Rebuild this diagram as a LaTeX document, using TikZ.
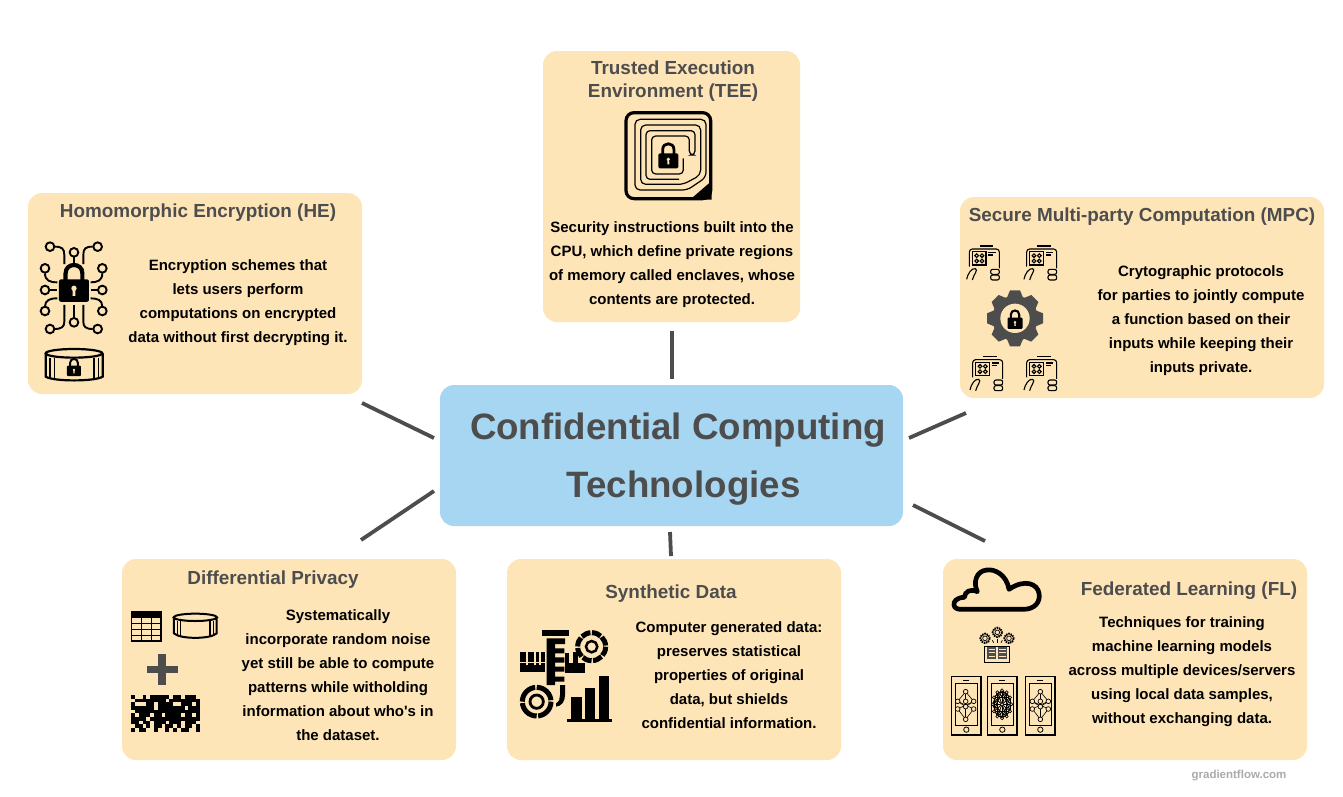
\documentclass[tikz,border=0pt]{standalone}
\usepackage{fontspec}
\defaultfontfeatures[\rmfamily]{}
\setmainfont{Liberation Sans}
\usepackage{tikz}
\usetikzlibrary{arrows.meta,positioning,calc}

\definecolor{panelfill}{HTML}{FEE5B7}
\definecolor{corefill}{HTML}{A6D6F1}
\definecolor{inkgray}{HTML}{4D4D4D}
\definecolor{creditgray}{HTML}{ABABAB}

\tikzset{
  panel/.style={fill=panelfill,rounded corners=14pt,inner sep=0pt,minimum width=#1},
  corebox/.style={fill=corefill,rounded corners=14pt,inner sep=0pt},
  title/.style={font=\bfseries\fontsize{18.9}{23}\selectfont,text=inkgray,align=center,inner sep=0pt},
  body/.style={font=\bfseries\fontsize{15}{24}\selectfont,text=black,align=center,inner sep=0pt},
  spoke/.style={draw=inkgray,line width=3.8pt},
  zoomed/.style 2 args={shift={(#1,#2)},x=0.3333pt,y=-0.3333pt}
}

% padlock: centre of body top, size in picture units
\newcommand{\padlock}[3]{%
  \begin{scope}[shift={(#1,#2)},x=#3pt,y=-#3pt]
    \draw[line width=0.14*#3 pt] (-.28,.1) -- (-.28,-.2)
      .. controls (-.28,-.57) and (.28,-.57) .. (.28,-.2) -- (.28,.1);
    \fill[rounded corners=0.07*#3 pt] (-.5,0) rectangle (.5,.75);
    \fill[panelfill] (0,.3) circle (.09);
    \fill[panelfill] (-.04,.3) -- (.04,.3) -- (.05,.55) -- (-.05,.55) -- cycle;
  \end{scope}}

% small tablet with hand and stack
\newcommand{\tablet}[2]{%
  \begin{scope}[shift={(#1,#2)},line width=1.1pt]
    \draw (60,33) -- (100,33);
    \draw[rounded corners=3pt] (28,95) -- (28,42) -- (118,42) -- (118,100);
    \draw[line width=1.2pt] (37,50) rectangle (78,90);
    \foreach \cx in {50,66} \foreach \cy in {62,78}
      \draw (\cx,\cy) circle (5.5);
    \draw (85,52) -- (108,52);
    \draw (85,60) -- (100,60);
    \draw (20,133) .. controls (22,118) and (35,98) .. (46,101)
      .. controls (56,104) and (40,120) .. (37,135);
    \draw[rounded corners=2pt] (92,103) rectangle (118,118);
    \draw[rounded corners=2pt] (92,120) rectangle (118,135);
  \end{scope}}

% phone with a small network
\newcommand{\phone}[1]{%
  \begin{scope}[shift={(#1,0)}]
    \draw[line width=1.5pt] (20,350) rectangle (108,525);
    \draw[line width=0.9pt] (31,370) rectangle (97,495);
    \draw[line width=0.8pt] (55,360) -- (73,360);
    \draw[line width=0.8pt] (64,509) circle (8);
  \end{scope}}

% one row of the noise block
\newcommand{\noiserow}[2]{%
  \foreach \cx in {#2}
    \fill (\cx*11.5,#1*11) rectangle ++(11.7,11.2);}

\begin{document}
\begin{tikzpicture}[x=1pt,y=-1pt]
  \useasboundingbox (0,0) rectangle (1343,796);
  \fill[white] (0,0) rectangle (1343,796);

  % boxes
  \node[corebox,minimum width=463,minimum height=141] (core) at (671.5,455.5) {};
  \node[panel=257,minimum height=271] (tee) at (671.5,186.5) {};
  \node[panel=334,minimum height=201] (he) at (195,293.5) {};
  \node[panel=364,minimum height=201] (mpc) at (1142,297.5) {};
  \node[panel=334,minimum height=201] (dp) at (289,659.5) {};
  \node[panel=334,minimum height=201] (sd) at (674,659.5) {};
  \node[panel=364,minimum height=201] (fl) at (1125,659.5) {};

  % spokes
  \coordinate (core-n) at (672,379);
  \coordinate (tee-s) at (672,331);
  \coordinate (core-nw) at (434,438);
  \coordinate (he-s) at (362,403);
  \coordinate (core-ne) at (909,438);
  \coordinate (mpc-s) at (966,413);
  \coordinate (core-sw) at (434,491);
  \coordinate (dp-n) at (361,540);
  \coordinate (core-s) at (670,532);
  \coordinate (sd-n) at (671,556);
  \coordinate (core-se) at (913,505);
  \coordinate (fl-n) at (985,541);
  \draw[spoke] (core-n) -- (tee-s);
  \draw[spoke] (core-nw) -- (he-s);
  \draw[spoke] (core-ne) -- (mpc-s);
  \draw[spoke] (core-sw) -- (dp-n);
  \draw[spoke] (core-s) -- (sd-n);
  \draw[spoke] (core-se) -- (fl-n);

  % texts
  \node[font=\bfseries\fontsize{36.7}{58}\selectfont,text=inkgray,align=center,inner sep=0pt] (core-text) at (678,459)
    {Confidential Computing\\\hspace*{11pt}Technologies};
  \node[title] (tee-title) at (673,81.5) {Trusted Execution\\Environment (TEE)};
  \node[body] (tee-text) at (672,265) {Security instructions built into the\\CPU, which define private regions\\of memory called enclaves, whose\\contents are protected.};
  \node[title] (he-title) at (198,213) {Homomorphic Encryption (HE)};
  \node[body] (he-text) at (238,303) {Encryption schemes that\\lets users perform\\computations on encrypted\\data without first decrypting it.};
  \node[title] (mpc-title) at (1142,217) {Secure Multi-party Computation (MPC)};
  \node[body] (mpc-text) at (1201,321) {Crytographic protocols\\for parties to jointly compute\\a function based on their\\inputs while keeping their\\inputs private.};
  \node[title] (dp-title) at (273,580) {Differential Privacy};
  \node[body] (dp-text) at (338,675) {Systematically\\incorporate random noise\\yet still be able to compute\\patterns while witholding\\information about who's in\\the dataset.};
  \node[title] (sd-title) at (671,594) {Synthetic Data};
  \node[body] (sd-text) at (729,675) {Computer generated data:\\preserves statistical\\properties of original\\data, but shields\\confidential information.};
  \node[title] (fl-title) at (1189,591) {Federated Learning (FL)};
  \node[body] (fl-text) at (1182,672) {Techniques for training\\machine learning models\\across multiple devices/servers\\using local data samples,\\without exchanging data.};
  \node[font=\bfseries\fontsize{11.5}{14}\selectfont,text=creditgray,inner sep=0pt] (credit) at (1239,776) {gradientflow.com};

  % TEE icon
  \begin{scope}[zoomed={600}{100}]
    \draw[line width=3.2pt,rounded corners=8pt] (78,38) -- (332,38) -- (332,296) -- (78,296) -- cycle;
    \fill (335,243) -- (335,299) -- (270,299) -- cycle;
    \draw[line width=1.2pt,rounded corners=5pt] (318,232) -- (318,58) -- (105,58) -- (105,270) -- (262,270) -- cycle;
    \draw[line width=1.2pt,rounded corners=5pt] (302,225) -- (302,75) -- (122,75) -- (122,253) -- (250,253) -- cycle;
    \draw[line width=1.2pt,rounded corners=4pt] (237,238) -- (138,238) -- (138,92) -- (285,92) -- (285,165) -- (268,165) -- (268,108) -- (155,108) -- (155,222) -- (250,222) -- (250,175);
    \padlock{205}{160}{20}
  \end{scope}

  % HE icon
  \begin{scope}[zoomed={20}{190},line width=1.9pt]
    \draw (104,170) .. controls (125,170) and (133,175) .. (133,195) -- (133,222);
    \draw (218,170) .. controls (197,170) and (190,175) .. (190,195) -- (190,222);
    \draw (162,201) -- (162,222);
    \draw (75,250) .. controls (75,272) and (90,277) .. (112,277);
    \draw (247,250) .. controls (247,272) and (232,277) .. (212,277);
    \draw (88,300) -- (112,300);
    \draw (234,300) -- (212,300);
    \draw (75,350) .. controls (75,330) and (90,325) .. (112,325);
    \draw (247,350) .. controls (247,330) and (232,325) .. (212,325);
    \draw (133,345) -- (133,395) .. controls (133,410) and (125,417) .. (104,417);
    \draw (190,345) -- (190,395) .. controls (190,410) and (197,417) .. (218,417);
    \draw (162,345) -- (162,384);
    \foreach \cx/\cy in {90/170,162/187,233/170,75/235,247/235,75/300,247/300,75/363,247/363,90/417,162/397,233/417}
      \draw (\cx,\cy) circle (13);
    \padlock{162}{268}{30}
    \draw[line width=2.2pt] (77,490) -- (77,560) .. controls (100,575) and (225,575) .. (248,560) -- (248,490);
    \draw[line width=2.2pt] (162,490) ellipse (85 and 13);
    \foreach \cx in {90,103,222,235}
      \draw[line width=1.3pt] (\cx,503) -- (\cx,566);
    \padlock{162}{527}{14}
  \end{scope}

  % MPC icon
  \begin{scope}[zoomed={960}{235}]
    \tablet{0}{0}
    \tablet{172}{0}
    \tablet{10}{332}
    \tablet{172}{332}
    \fill[inkgray] (165,250) circle (68);
    \foreach \ang in {0,45,...,315}
      \fill[inkgray,rotate around={\ang:(165,250)}] (138,195) -- (150,166) -- (180,166) -- (192,195) -- cycle;
    \fill[panelfill] (165,250) circle (44);
    \padlock{165}{248}{15}
  \end{scope}

  % DP icon
  \begin{scope}[zoomed={125}{600}]
    \fill (18,33) rectangle (110,55);
    \draw[line width=1.5pt] (20,35) rectangle (108,123);
    \foreach \gx in {50,80} \draw[line width=0.7pt] (\gx,55) -- (\gx,123);
    \foreach \gy in {70,88,105} \draw[line width=0.7pt] (20,\gy) -- (108,\gy);
    \draw[line width=2pt] (147,52) -- (147,100) .. controls (165,118) and (257,118) .. (275,100) -- (275,52);
    \draw[line width=2pt] (211,52) ellipse (65 and 11);
    \foreach \cx in {157,167,255,265}
      \draw[line width=1.2pt] (\cx,62) -- (\cx,108);
    \fill[inkgray] (100,162) rectangle (122,254);
    \fill[inkgray] (66,198) rectangle (158,218);
    \begin{scope}[shift={(18,285)}]
      \noiserow{0}{0,3,5,6,7,8,9,11,12,14,15,16}
      \noiserow{1}{1,2,3,4,5,6,7,8,10,11,12,13,14,15,16,17}
      \noiserow{2}{0,4,5,7,8,9,10,13,14,15,17}
      \noiserow{3}{0,1,2,3,4,5,7,8,9,10,11,12,13,15,16,17}
      \noiserow{4}{1,2,3,4,5,6,7,8,9,10,11,12,13,14,15,16,17}
      \noiserow{5}{0,2,3,4,6,7,9,10,11,12,14,15,17}
      \noiserow{6}{0,1,2,3,5,6,7,8,9,10,11,12,13,14,15,16,17}
      \noiserow{7}{0,1,3,4,6,7,8,10,11,12,14,15,16}
      \noiserow{8}{1,2,4,6,7,9,10,12,14,15,17}
      \noiserow{9}{0,2,3,6,9,11,13,14,17}
    \end{scope}
  \end{scope}

  % SD icon
  \begin{scope}[zoomed={510}{620}]
    \fill (95,30) rectangle (178,48);
    \fill (110,55) -- (165,55) -- (165,72) -- (135,72) -- (135,85) -- (163,85) -- (163,100) -- (135,100) -- (135,112) -- (163,112) -- (163,128) -- (135,128) -- (135,140) -- (163,140) -- (163,155) -- (135,155) -- (135,170) -- (163,170) -- (163,185) -- (135,185) -- (135,195) -- (110,195) -- cycle;
    \fill (150,195) -- (165,195) -- (165,225) .. controls (165,245) and (155,258) .. (138,260) -- (138,250) .. controls (148,245) and (150,235) .. (150,225) -- cycle;
    \fill (30,95) rectangle (105,155);
    \fill (165,130) rectangle (225,160);
    \fill (165,100) rectangle (178,130);
    \fill (190,95) rectangle (205,130);
    \foreach \gx in {47,72,88} \fill[panelfill] (\gx,95) rectangle (\gx+6,135);
    \fill[panelfill] (30,125) rectangle (105,128);
    \draw[line width=5pt,dash pattern=on 9.5pt off 1.5pt] (245,80) circle (42);
    \draw[line width=2.5pt] (245,80) circle (17);
    \draw[panelfill,line width=5pt] (80,245) circle (50);
    \draw[line width=5pt,dash pattern=on 21pt off 1.5pt] (80,245) circle (43);
    \draw[line width=2.8pt] (80,245) circle (20);
    \fill (182,232) rectangle (215,298);
    \fill (224,205) rectangle (255,298);
    \fill (266,168) rectangle (297,298);
    \fill (172,298) rectangle (305,305);
  \end{scope}

  % FL icon
  \begin{scope}[zoomed={945}{560}]
    \draw[line width=4.7pt,line join=round] (50,148) -- (235,148)
      .. controls (270,148) and (287,125) .. (282,100)
      .. controls (278,72) and (240,55) .. (192,88)
      .. controls (185,45) and (150,26) .. (125,30)
      .. controls (95,33) and (83,65) .. (97,95)
      .. controls (75,85) and (60,95) .. (58,112)
      .. controls (35,112) and (25,125) .. (27,135)
      .. controls (28,145) and (38,148) .. (50,148) -- cycle;
    % book and gears
    \foreach \cx/\cy in {120/235,157/217,192/235} {
      \draw[line width=2pt,dash pattern=on 1.5pt off 0.8pt] (\cx,\cy) circle (14);
      \draw[line width=0.7pt] (\cx,\cy) circle (7);
    }
    \draw[line width=1pt] (118,258) rectangle (194,306);
    \fill[inkgray] (127,260) rectangle (154,298);
    \fill[inkgray] (158,260) rectangle (186,298);
    \foreach \gy in {268,278,288} {
      \draw[panelfill,line width=0.8pt] (131,\gy) -- (150,\gy);
      \draw[panelfill,line width=0.8pt] (162,\gy) -- (182,\gy);
    }
    \foreach \sx/\sy/\ex/\ey in {142/241/146/248,157/238/157/248,172/241/168/248}
      \draw[line width=0.7pt] (\sx,\sy) -- (\ex,\ey);
    % phones
    \phone{0}
    \phone{108}
    \phone{222}
    \foreach \dx in {0,224} {
      \begin{scope}[shift={(\dx,0)}]
        \foreach \ax/\ay/\bx/\by in {62/395/38/424,62/395/62/424,62/395/86/424,38/424/62/440,38/447/62/478,86/447/62/478,62/440/62/478,86/424/62/440,38/424/86/447,86/424/38/447}
          \draw[line width=0.6pt] (\ax,\ay) -- (\bx,\by);
        \foreach \cx/\cy in {62/395,38/424,62/424,86/424,38/447,62/440,86/447,62/478}
          \draw[fill=panelfill,line width=0.7pt] (\cx,\cy) circle (7);
      \end{scope}
    }
    \begin{scope}[shift={(171,433)}]
      \foreach \angA in {0,30,...,330} \foreach \angB in {60,120,...,300}
        \draw[line width=0.5pt] (\angA:28 and 42) -- (\angA+\angB:28 and 42);
      \foreach \angA in {0,30,...,330}
        \draw[line width=0.6pt,fill=panelfill] (\angA:28 and 42) circle (4.5);
      \draw[line width=0.6pt,fill=panelfill] (0,0) circle (5);
    \end{scope}
  \end{scope}
\end{tikzpicture}
\end{document}
